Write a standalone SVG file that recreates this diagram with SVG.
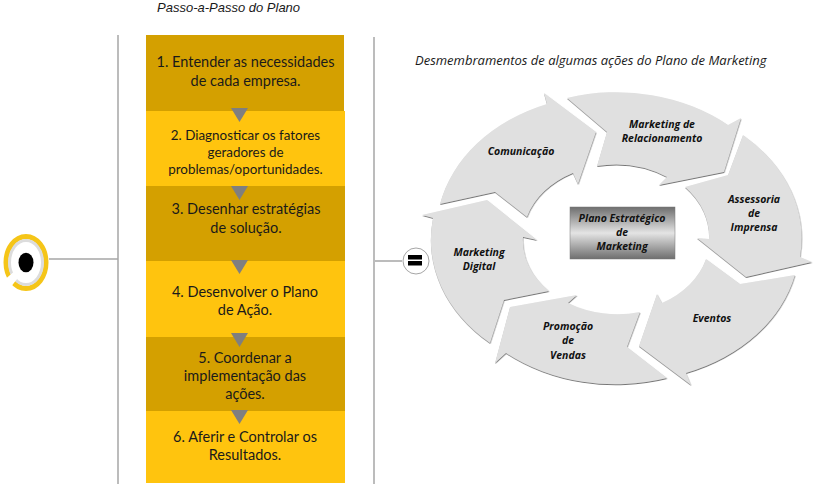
<svg xmlns="http://www.w3.org/2000/svg" width="815" height="488" viewBox="0 0 815 488">
<style>
.ln{stroke:#a6a6a6;stroke-width:1.5;fill:none}
.dk{fill:#d4a000}
.lt{fill:#ffc40e}
.tri{fill:#7f7f7f}
.st{font-family:"Lato","Liberation Sans",sans-serif;font-size:14.500px;fill:#1a1a1a;text-anchor:middle}
.ti{font-family:"Open Sans","Liberation Sans",sans-serif;font-style:italic;font-size:13px;fill:#1a1a1a}
.ar{fill:#e0e0e0;filter:url(#sh)}
.al{font-family:"Open Sans","Liberation Sans",sans-serif;font-style:italic;font-weight:700;font-size:10.500px;fill:#111;text-anchor:middle}
</style>
<defs>
<filter id="sh" x="-10%" y="-10%" width="120%" height="120%"><feDropShadow dx="0.3" dy="0.9" stdDeviation="0.25" flood-color="#666"/></filter>
<linearGradient id="cg" x1="0" y1="0" x2="0" y2="1"><stop offset="0" stop-color="#6e6e6e"/><stop offset="0.5" stop-color="#e4e4e4"/><stop offset="1" stop-color="#6e6e6e"/></linearGradient>
</defs>
<rect width="815" height="488" fill="#fff"/>
<g id="connectors">
<path class="ln" d="M118 35V484M374 37V484M49 259H118M375 261H402"/>
</g>
<g id="icon">
<ellipse cx="26" cy="262.500" rx="20" ry="26" fill="none" stroke="#f5c518" stroke-width="5"/>
<ellipse cx="26" cy="262.500" rx="16.500" ry="22" fill="none" stroke="#dcdcdc" stroke-width="3"/>
<ellipse cx="26" cy="262.500" rx="7.500" ry="9.800" fill="#000"/>
<path d="M3 281L16 270L21 274L10 288Z" fill="#fff"/>
</g>
<text class="ti" x="157" y="12" style="font-family:'Liberation Sans',sans-serif">Passo-a-Passo do Plano</text>
<text class="ti" x="415" y="65">Desmembramentos de algumas ações do Plano de Marketing</text>
<g id="step1"><rect class="dk" x="146" y="35" width="198" height="76"/><text class="st"><tspan x="245.500" y="67">1. Entender as necessidades</tspan><tspan x="245.500" y="86">de cada empresa.</tspan></text></g>
<g id="step2"><rect class="lt" x="146" y="111" width="199" height="75"/><text class="st" style="font-size:13.400px"><tspan x="245.500" y="140">2. Diagnosticar os fatores</tspan><tspan x="245.500" y="157">geradores de</tspan><tspan x="245.500" y="174">problemas/oportunidades.</tspan></text></g>
<g id="step3"><rect class="dk" x="146" y="186" width="199" height="75"/><text class="st"><tspan x="246" y="214">3. Desenhar estratégias</tspan><tspan x="246" y="233">de solução.</tspan></text></g>
<g id="step4"><rect class="lt" x="146" y="261" width="199" height="76"/><text class="st"><tspan x="245" y="297">4. Desenvolver o Plano</tspan><tspan x="245" y="315">de Ação.</tspan></text></g>
<g id="step5"><rect class="dk" x="146" y="337" width="199" height="74"/><text class="st"><tspan x="245" y="363">5. Coordenar a</tspan><tspan x="245" y="381">implementação das</tspan><tspan x="245" y="399">ações.</tspan></text></g>
<g id="step6"><rect class="lt" x="146" y="411" width="199" height="72"/><text class="st"><tspan x="245" y="442">6. Aferir e Controlar os</tspan><tspan x="245" y="460">Resultados.</tspan></text></g>
<g id="triangles">
<path class="tri" d="M231 108H248L239.500 122Z"/>
<path class="tri" d="M231 186H248L239.500 200Z"/>
<path class="tri" d="M231 260H248L239.500 274Z"/>
<path class="tri" d="M231 333H248L239.500 347Z"/>
<path class="tri" d="M231 410H248L239.500 424Z"/>
</g>
<g id="equals">
<circle cx="416" cy="261" r="13" fill="#fff" stroke="#a6a6a6" stroke-width="1"/>
<rect x="408" y="255" width="14" height="4.500" fill="#000"/><rect x="408" y="261" width="14" height="4.500" fill="#000"/>
</g>
<g id="comunicacao"><path class="ar" d="M440 204A172 137 0 0 1 547 104L544 93L596 132L578 184L573 173A93 73 0 0 0 527 217L495 192Z"/><text class="al" x="521" y="155">Comunicação</text></g>
<g id="relacionamento"><path class="ar" d="M567 98A172 137 0 0 1 728 125L741 118L724 172L659 185L667 177A93 73 0 0 0 597 166L607 132Z"/><text class="al"><tspan x="662" y="128">Marketing de</tspan><tspan x="662" y="142">Relacionamento</tspan></text></g>
<g id="assessoria"><path class="ar" d="M743 135A172 137 0 0 1 800 257L812 262L746 277L697 238L709 239A93 73 0 0 0 685 187L728 175Z"/><text class="al"><tspan x="754" y="203">Assessoria</tspan><tspan x="754" y="217">de</tspan><tspan x="754" y="231">Imprensa</tspan></text></g>
<g id="eventos"><path class="ar" d="M795 275A172 137 0 0 1 686 373L691 385L639 346L657 294L662 303A93 73 0 0 0 706 259L740 284Z"/><text class="al" x="712" y="322">Eventos</text></g>
<g id="promocao"><path class="ar" d="M667 378A172 137 0 0 1 506 353L495 363L510 307L577 295L568 303A93 73 0 0 0 640 312L627 347Z"/><text class="al"><tspan x="568" y="330">Promoção</tspan><tspan x="568" y="344">de</tspan><tspan x="568" y="359">Vendas</tspan></text></g>
<g id="digital"><path class="ar" d="M490 343A172 137 0 0 1 433 218L422 215L487 200L537 240L523 237A93 73 0 0 0 549 291L504 300Z"/><text class="al"><tspan x="479" y="256">Marketing</tspan><tspan x="479" y="270">Digital</tspan></text></g>
<g id="plano"><rect x="570" y="207" width="105" height="52" fill="url(#cg)" stroke="#777" stroke-width="0.500"/><text class="al"><tspan x="622" y="222">Plano Estratégico</tspan><tspan x="622" y="236">de</tspan><tspan x="622" y="250">Marketing</tspan></text></g>
</svg>
